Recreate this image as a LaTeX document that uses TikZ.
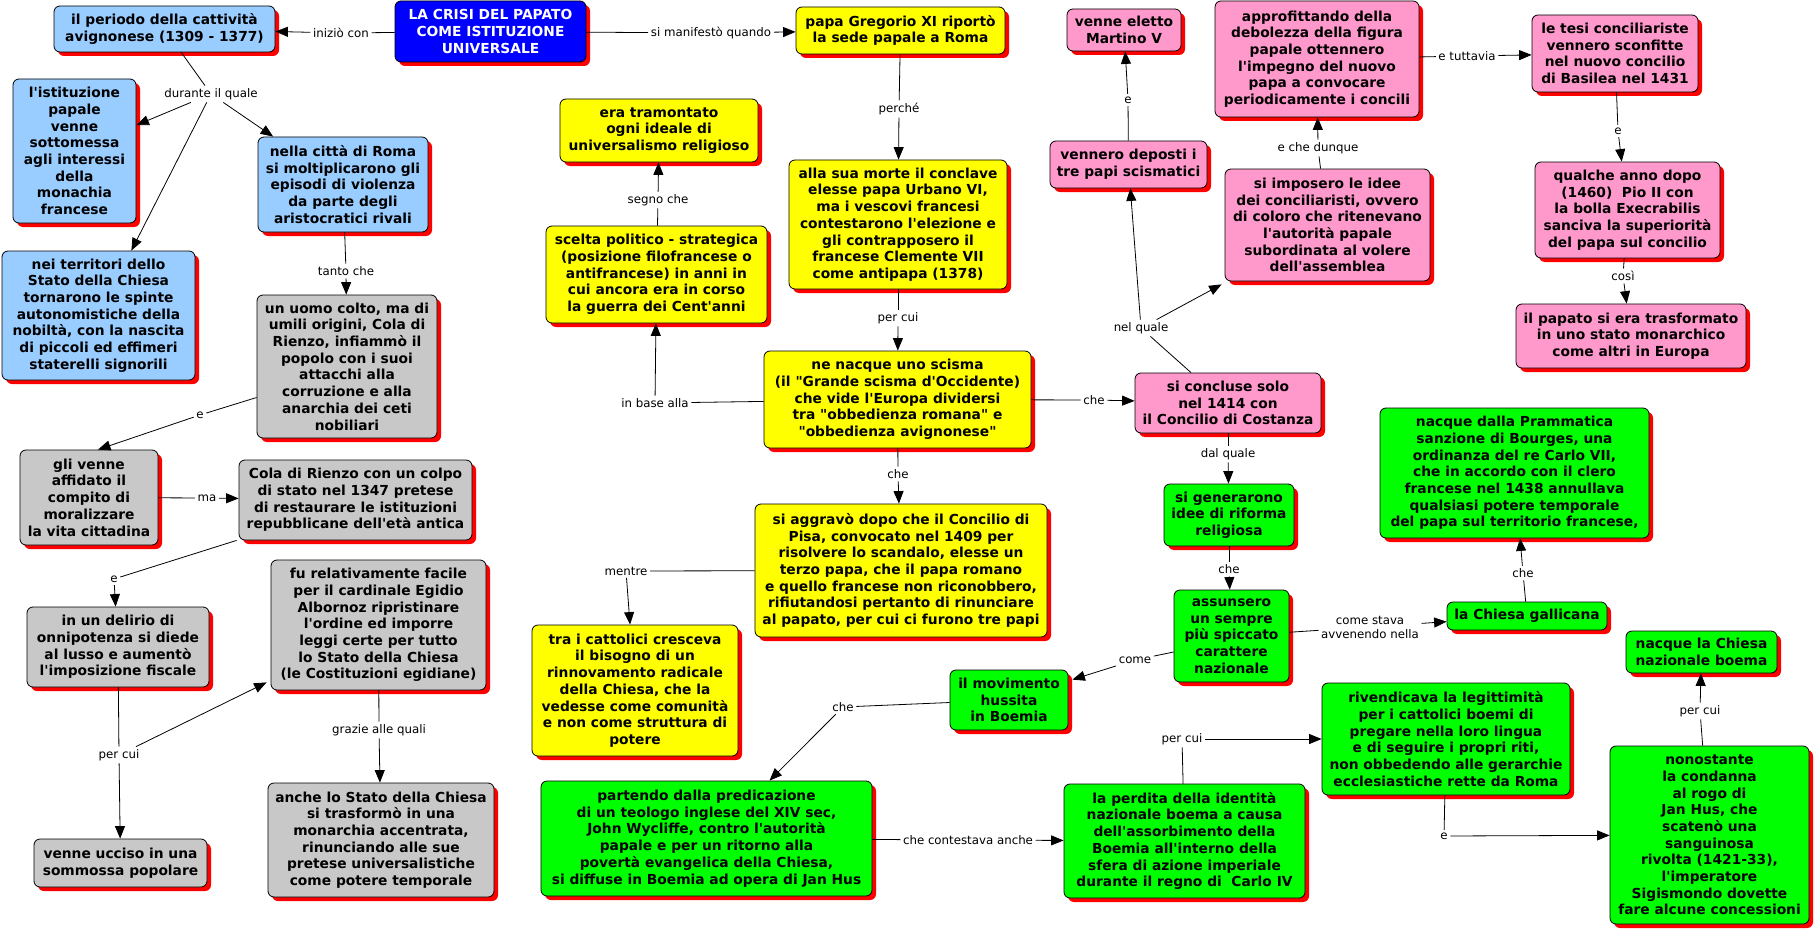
\documentclass[tikz,border=0pt]{standalone}
\usepackage{fontspec}
\setmainfont{DejaVu Sans}[Ligatures=TeXOff]
\usetikzlibrary{arrows.meta,shadows}
\definecolor{cBlue}{RGB}{153,204,255}
\definecolor{cGray}{RGB}{200,200,200}
\definecolor{cYel}{RGB}{255,255,0}
\definecolor{cPink}{RGB}{255,153,204}
\definecolor{cGreen}{RGB}{0,255,0}
\definecolor{cTitle}{RGB}{0,0,255}
\begin{document}
\begin{tikzpicture}[x=1pt,y=-1pt,
 cmbox/.style={draw=black, line width=0.8pt, rounded corners=6pt, align=center, inner sep=1pt,
   font=\bfseries\fontsize{13.8}{16.7}\selectfont,
   general shadow={fill=red, shadow xshift=4pt, shadow yshift=-4pt}},
 nblue/.style={cmbox, fill=cBlue},
 ngray/.style={cmbox, fill=cGray},
 nyel/.style={cmbox, fill=cYel},
 npink/.style={cmbox, fill=cPink},
 ngreen/.style={cmbox, fill=cGreen},
 ntitle/.style={cmbox, fill=cTitle, text=white},
 sz/.style 2 args={minimum width=#1pt, minimum height=#2pt},
 lbl/.style={fill=white, inner sep=2.5pt, align=center, font=\fontsize{11.8}{14}\selectfont},
 conn/.style={draw=black, line width=0.8pt},
 arr/.style={conn, -{Triangle[length=12.5pt,width=10pt]}}
]
\useasboundingbox (0,0) rectangle (1815,931);

% ---------- nodes ----------
\node[ntitle, sz={191}{61}] (title) at (490.5,31.5) {LA CRISI DEL PAPATO\\COME ISTITUZIONE\\UNIVERSALE};

\node[nblue, sz={221}{46}] (periodo) at (164.5,29) {il periodo della cattività\\avignonese (1309 - 1377)};
\node[nblue, sz={123}{144}] (istituzione) at (74.5,151) {l'istituzione\\papale\\venne\\sottomessa\\agli interessi\\della\\monachia\\francese};
\node[nblue, sz={170}{95}] (citta) at (343,184.5) {nella città di Roma\\si moltiplicarono gli\\episodi di violenza\\da parte degli\\aristocratici rivali};
\node[nblue, sz={193}{129}] (territori) at (98.5,315.5) {nei territori dello\\Stato della Chiesa\\tornarono le spinte\\autonomistiche della\\nobiltà, con la nascita\\di piccoli ed effimeri\\staterelli signorili};

\node[ngray, sz={180}{143}] (uomo) at (347,366.5) {un uomo colto, ma di\\umili origini, Cola di\\Rienzo, infiammò il\\popolo con i suoi\\attacchi alla\\corruzione e alla\\anarchia dei ceti\\nobiliari};
\node[ngray, sz={138}{95}] (gliVenne) at (89,497.5) {gli venne\\affidato il\\compito di\\moralizzare\\la vita cittadina};
\node[ngray, sz={233}{80}] (cola) at (355.5,500) {Cola di Rienzo con un colpo\\di stato nel 1347 pretese\\di restaurare le istituzioni\\repubblicane dell'età antica};
\node[ngray, sz={182}{80}] (delirio) at (118,647) {in un delirio di\\onnipotenza si diede\\al lusso e aumentò\\l'imposizione fiscale};
\node[ngray, sz={215}{130}] (fuRel) at (378.5,625) {fu relativamente facile\\per il cardinale Egidio\\Albornoz ripristinare\\l'ordine ed imporre\\leggi certe per tutto\\lo Stato della Chiesa\\(le Costituzioni egidiane)};
\node[ngray, sz={173}{48}] (ucciso) at (120.5,863) {venne ucciso in una\\sommossa popolare};
\node[ngray, sz={226}{114}] (ancheStato) at (381,840) {anche lo Stato della Chiesa\\si trasformò in una\\monarchia accentrata,\\rinunciando alle sue\\pretese universalistiche\\come potere temporale};

\node[nyel, sz={209}{47}] (gregorio) at (900.5,30.5) {papa Gregorio XI riportò\\la sede papale a Roma};
\node[nyel, sz={218}{129}] (morte) at (898,224.5) {alla sua morte il conclave\\elesse papa Urbano VI,\\ma i vescovi francesi\\contestarono l'elezione e\\gli contrapposero il\\francese Clemente VII\\come antipapa (1378)};
\node[nyel, sz={198}{63}] (tramontato) at (659,130.5) {era tramontato\\ogni ideale di\\universalismo religioso};
\node[nyel, sz={221}{97}] (scelta) at (656.5,274.5) {scelta politico - strategica\\(posizione filofrancese o\\antifrancese) in anni in\\cui ancora era in corso\\la guerra dei Cent'anni};
\node[nyel, sz={267}{97}] (scisma) at (897.5,399.5) {ne nacque uno scisma\\(il "Grande scisma d'Occidente)\\che vide l'Europa dividersi\\tra "obbedienza romana" e\\"obbedienza avignonese"};
\node[nyel, sz={292}{133}] (aggravo) at (901,570.5) {si aggravò dopo che il Concilio di\\Pisa, convocato nel 1409 per\\risolvere lo scandalo, elesse un\\terzo papa, che il papa romano\\e quello francese non riconobbero,\\rifiutandosi pertanto di rinunciare\\al papato, per cui ci furono tre papi};
\node[nyel, sz={206}{131}] (cattolici) at (635,690.5) {tra i cattolici cresceva\\il bisogno di un\\rinnovamento radicale\\della Chiesa, che la\\vedesse come comunità\\e non come struttura di\\potere};

\node[npink, sz={186}{60}] (concluse) at (1228,403) {si concluse solo\\nel 1414 con\\il Concilio di Costanza};
\node[npink, sz={157}{47}] (deposti) at (1128.5,164.5) {vennero deposti i\\tre papi scismatici};
\node[npink, sz={114}{42}] (eletto) at (1124,30) {venne eletto\\Martino V};
\node[npink, sz={204}{116}] (approf) at (1317,59) {approfittando della\\debolezza della figura\\papale ottennero\\l'impegno del nuovo\\papa a convocare\\periodicamente i concili};
\node[npink, sz={205}{112}] (imposero) at (1327.5,225) {si imposero le idee\\dei conciliaristi, ovvero\\di coloro che ritenevano\\l'autorità papale\\subordinata al volere\\dell'assemblea};
\node[npink, sz={166}{77}] (tesi) at (1615,53.5) {le tesi conciliariste\\vennero sconfitte\\nel nuovo concilio\\di Basilea nel 1431};
\node[npink, sz={185}{96}] (qualche) at (1627.5,210) {qualche anno dopo\\(1460)\ \ Pio II con\\la bolla Execrabilis\\sanciva la superiorità\\del papa sul concilio};
\node[npink, sz={230}{64}] (papato) at (1631,336) {il papato si era trasformato\\in uno stato monarchico\\come altri in Europa};

\node[ngreen, sz={130}{62}] (generarono) at (1229,515) {si generarono\\idee di riforma\\religiosa};
\node[ngreen, sz={115}{92}] (assunsero) at (1231.5,636) {assunsero\\un sempre\\più spiccato\\carattere\\nazionale};
\node[ngreen, sz={269}{130}] (prammatica) at (1514.5,473) {nacque dalla Prammatica\\sanzione di Bourges, una\\ordinanza del re Carlo VII,\\che in accordo con il clero\\francese nel 1438 annullava\\qualsiasi potere temporale\\del papa sul territorio francese,};
\node[ngreen, sz={160}{28}] (gallicana) at (1527,616) {la Chiesa gallicana};
\node[ngreen, sz={151}{42}] (boema) at (1701.5,652) {nacque la Chiesa\\nazionale boema};
\node[ngreen, sz={118}{60}] (movimento) at (1009,700) {il movimento\\hussita\\in Boemia};
\node[ngreen, sz={331}{115}] (partendo) at (706.5,838.5) {partendo dalla predicazione\\di un teologo inglese del XIV sec,\\John Wycliffe, contro l'autorità\\papale e per un ritorno alla\\povertà evangelica della Chiesa,\\si diffuse in Boemia ad opera di Jan Hus};
\node[ngreen, sz={241}{114}] (perdita) at (1184.5,841) {la perdita della identità\\nazionale boema a causa\\dell'assorbimento della\\Boemia all'interno della\\sfera di azione imperiale\\durante il regno di\ \ Carlo IV};
\node[ngreen, sz={248}{112}] (rivendicava) at (1446,739) {rivendicava la legittimità\\per i cattolici boemi di\\pregare nella loro lingua\\e di seguire i propri riti,\\non obbedendo alle gerarchie\\ecclesiastiche rette da Roma};
\node[ngreen, sz={199}{178}] (nonostante) at (1709.5,835) {nonostante\\la condanna\\al rogo di\\Jan Hus, che\\scatenò una\\sanguinosa\\rivolta (1421-33),\\l'imperatore\\Sigismondo dovette\\fare alcune concessioni};

% ---------- labels ----------
\node[lbl] (Linizio) at (341,33) {iniziò con};
\node[lbl] (Ldurante) at (211,94) {durante il quale};
\node[lbl] (Ltanto) at (346,271) {tanto che};
\node[lbl] (Le1) at (200,415) {e};
\node[lbl] (Lma) at (207,498) {ma};
\node[lbl] (Le2) at (114,579) {e};
\node[lbl] (Lpercui1) at (119,755) {per cui};
\node[lbl] (Lgrazie) at (379,730) {grazie alle quali};
\node[lbl] (Lmanif) at (711,33) {si manifestò quando};
\node[lbl] (Lperche) at (899,109) {perché};
\node[lbl] (Lsegno) at (658,200) {segno che};
\node[lbl] (Lpercui2) at (898,318) {per cui};
\node[lbl] (Linbase) at (655,403) {in base alla};
\node[lbl] (Lche1) at (898,474) {che};
\node[lbl] (Lmentre) at (626,571) {mentre};
\node[lbl] (Lche2) at (1094,400) {che};
\node[lbl] (Lnelquale) at (1141,328) {nel quale};
\node[lbl] (Le3) at (1128,100) {e};
\node[lbl] (Lechedunque) at (1318,148) {e che dunque};
\node[lbl] (Letuttavia) at (1467,56) {e tuttavia};
\node[lbl] (Le4) at (1618,131) {e};
\node[lbl] (Lcosi) at (1623,276) {così};
\node[lbl] (Ldalquale) at (1228,454) {dal quale};
\node[lbl] (Lche3) at (1229,569) {che};
\node[lbl] (Lcomestava) at (1370,627) {come stava\\avvenendo nella};
\node[lbl] (Lche4) at (1523,573) {che};
\node[lbl] (Lcome) at (1135,660) {come};
\node[lbl] (Lche5) at (843,707) {che};
\node[lbl] (Lchecont) at (968,840) {che contestava anche};
\node[lbl] (Lpercui3) at (1182,739) {per cui};
\node[lbl] (Le5) at (1444,836) {e};
\node[lbl] (Lpercui4) at (1700,711) {per cui};

% ---------- connectors ----------
\draw[conn] (title) -- (Linizio);
\draw[arr] (Linizio) -- (periodo);
\draw[conn] (periodo) -- (Ldurante);
\draw[arr] (Ldurante) -- (istituzione);
\draw[arr] (Ldurante) -- (citta);
\draw[arr] (Ldurante) -- (territori);
\draw[conn] (citta) -- (Ltanto);
\draw[arr] (Ltanto) -- (uomo);
\draw[conn] ([yshift=-31pt]uomo.west) -- (Le1);
\draw[arr] (Le1) -- ([xshift=9pt]gliVenne.north);
\draw[conn] (gliVenne) -- (Lma);
\draw[arr] (Lma) -- (cola);
\draw[conn] ([xshift=-2pt]cola.south west) -- (Le2);
\draw[arr] (Le2) -- (delirio);
\draw[conn] (delirio) -- (Lpercui1);
\draw[arr] (Lpercui1) -- (ucciso);
\draw[arr] (Lpercui1) -- ([xshift=-4pt,yshift=8pt]fuRel.south west);
\draw[conn] (fuRel) -- (Lgrazie);
\draw[arr] (Lgrazie) -- (ancheStato);

\draw[conn] (title) -- (Lmanif);
\draw[arr] (Lmanif) -- (gregorio);
\draw[conn] (gregorio) -- (Lperche);
\draw[arr] (Lperche) -- (morte);
\draw[conn] (morte) -- (Lpercui2);
\draw[arr] (Lpercui2) -- (scisma);
\draw[conn] (scisma) -- (Linbase);
\draw[arr] (Linbase) -- (scelta);
\draw[conn] (scelta) -- (Lsegno);
\draw[arr] (Lsegno) -- (tramontato);
\draw[conn] (scisma) -- (Lche1);
\draw[arr] (Lche1) -- (aggravo);
\draw[conn] (aggravo) -- (Lmentre);
\draw[arr] (Lmentre) -- (cattolici);
\draw[conn] (scisma) -- (Lche2);
\draw[arr] (Lche2) -- (concluse);

\draw[conn] ([xshift=-37pt]concluse.north) -- (Lnelquale);
\draw[arr] (Lnelquale) -- (deposti);
\draw[arr] (Lnelquale) -- ([xshift=-3pt,yshift=-3pt]imposero.south west);
\draw[conn] (deposti) -- (Le3);
\draw[arr] (Le3) -- (eletto);
\draw[conn] (imposero) -- (Lechedunque);
\draw[arr] (Lechedunque) -- (approf);
\draw[conn] (approf) -- (Letuttavia);
\draw[arr] (Letuttavia) -- (tesi);
\draw[conn] (tesi) -- (Le4);
\draw[arr] (Le4) -- (qualche);
\draw[conn] (qualche) -- (Lcosi);
\draw[arr] (Lcosi) -- (papato);

\draw[conn] (concluse) -- (Ldalquale);
\draw[arr] (Ldalquale) -- (generarono);
\draw[conn] (generarono) -- (Lche3);
\draw[arr] (Lche3) -- (assunsero);
\draw[conn] (assunsero) -- (Lcomestava);
\draw[arr] (Lcomestava) -- (gallicana);
\draw[conn] (gallicana) -- (Lche4);
\draw[arr] (Lche4) -- (prammatica);
\draw[conn] ([yshift=-16pt]assunsero.west) -- (Lcome);
\draw[arr] (Lcome) -- ([xshift=4pt,yshift=-10pt]movimento.north east);
\draw[conn] (movimento) -- (Lche5);
\draw[arr] (Lche5) -- ([xshift=63pt]partendo.north);
\draw[conn] (partendo) -- (Lchecont);
\draw[arr] (Lchecont) -- (perdita);
\draw[conn] (perdita) -- (Lpercui3);
\draw[arr] (Lpercui3) -- (rivendicava);
\draw[conn] (rivendicava) -- (Le5);
\draw[arr] (Le5) -- (nonostante);
\draw[conn] (nonostante) -- (Lpercui4);
\draw[arr] (Lpercui4) -- (boema);
\end{tikzpicture}
\end{document}
